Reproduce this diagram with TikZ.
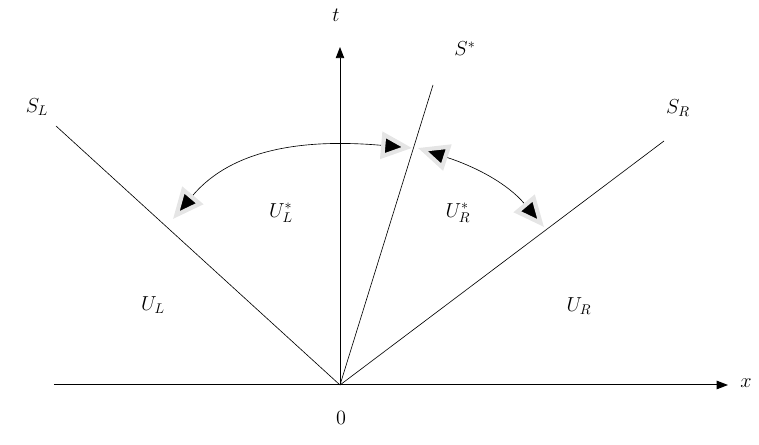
\documentclass[tikz,border=0pt]{standalone}
\usepackage{amsmath}
\usepackage{tikz}
\usetikzlibrary{arrows.meta}

\begin{document}
\begin{tikzpicture}[x=0.025cm, y=0.025cm, font=\Large,
		axis/.style={draw, line width=0.7pt, -{Triangle[length=8pt,width=6pt]}},
		wave/.style={draw, line width=0.45pt},
		swing/.style={draw, line width=0.45pt,
			{Triangle[length=22pt,width=19pt,fill=black,color=gray!20,line width=3pt]}-{Triangle[length=22pt,width=19pt,fill=black,color=gray!20,line width=3pt]}}]
		\useasboundingbox (-340,-60) rectangle (419,385);
		\coordinate (origin) at (0,0);
		\coordinate (x_left) at (-286,0);
		\coordinate (x_end) at (388,0);
		\coordinate (t_end) at (0,338);
		\coordinate (sl_end) at (-284,259);
		\coordinate (ss_end) at (93,300);
		\coordinate (sr_end) at (324,244);
		\coordinate (left_tip) at (-167,166);
		\coordinate (star_left) at (72,237);
		\coordinate (star_right) at (78,237);
		\coordinate (right_tip) at (204,158);
		\node (x_lab) at (406,2) {$x$};
		\node (t_lab) at (-4,370) {$t$};
		\node (zero) at (1,-33) {$0$};
		\node (sl_lab) at (-303,278) {$S_L$};
		\node (ss_lab) at (125,336) {$S^*$};
		\node (sr_lab) at (338,277) {$S_R$};
		\node (ul) at (-187,80) {$U_L$};
		\node (ur) at (239,79) {$U_R$};
		\node (uls) at (-59,172) {$U_L^*$};
		\node (urs) at (118,172) {$U_R^*$};
		\path [axis] (x_left) -- (x_end);
		\path [axis] (origin) -- (t_end);
		\path [wave] (origin) -- (sl_end);
		\path [wave] (origin) -- (ss_end);
		\path [wave] (origin) -- (sr_end);
		\path [swing] (left_tip) to[out=50, in=175] (star_left);
		\path [swing] (star_right) to[out=-18, in=130] (right_tip);
	\end{tikzpicture}
\end{document}
